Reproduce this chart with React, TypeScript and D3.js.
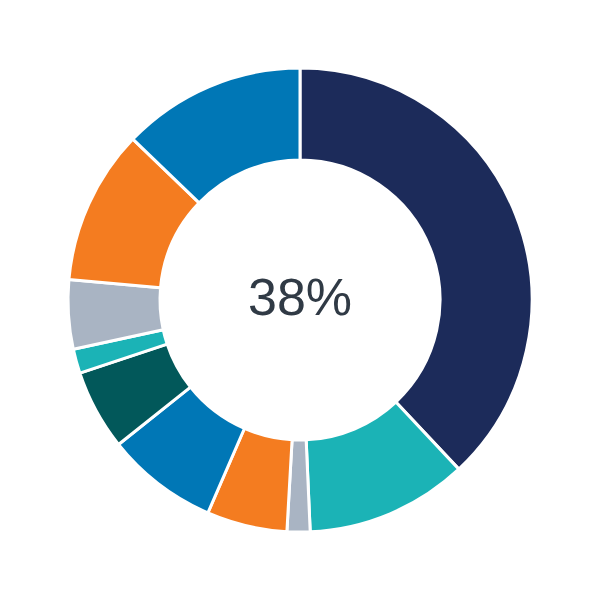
import { useEffect, useRef } from "react";
import * as d3 from "d3";

const segments = ["A", "B", "C", "D", "E", "F", "G", "H", "I", "J"];
const shares = [38, 11.3, 1.6, 5.6, 7.8, 5.6, 1.7, 4.8, 10.8, 12.8];
const colors = [
  "#1c2b5a",
  "#1bb3b6",
  "#a9b4c3",
  "#f47c20",
  "#0077b6",
  "#02585a",
  "#1bb3b6",
  "#a9b4c3",
  "#f47c20",
  "#0077b6",
];
const centerLabel = "38%";

export default function App() {
  const svgRef = useRef<SVGSVGElement>(null);

  useEffect(() => {
    if (!svgRef.current) return;
    const width = 600;
    const height = 600;
    const svg = d3.select(svgRef.current);
    svg.selectAll("*").remove();
    svg.attr("viewBox", `0 0 ${width} ${height}`);

    const data = segments.map((s, i) => ({ key: s, value: shares[i] }));

    const pie = d3
      .pie<{ key: string; value: number }>()
      .value((d) => d.value)
      .sort(null);

    const arc = d3
      .arc<d3.PieArcDatum<{ key: string; value: number }>>()
      .innerRadius(140)
      .outerRadius(232);

    const g = svg.append("g").attr("transform", `translate(300,300)`);

    g.selectAll("path")
      .data(pie(data))
      .enter()
      .append("path")
      .attr("d", arc)
      .attr("fill", (_, i) => colors[i])
      .attr("stroke", "white")
      .attr("stroke-width", 3)
      .attr("stroke-linejoin", "round");

    g.append("text")
      .attr("x", 0)
      .attr("y", 15)
      .attr("text-anchor", "middle")
      .attr("font-family", "'Liberation Sans', Arial, sans-serif")
      .attr("font-size", "52px")
      .attr("fill", "#303a45")
      .text(centerLabel);
  }, []);

  return (
    <svg
      ref={svgRef}
      width={600}
      height={600}
      style={{ position: "absolute", left: 0, top: 0, background: "white" }}
    />
  );
}
